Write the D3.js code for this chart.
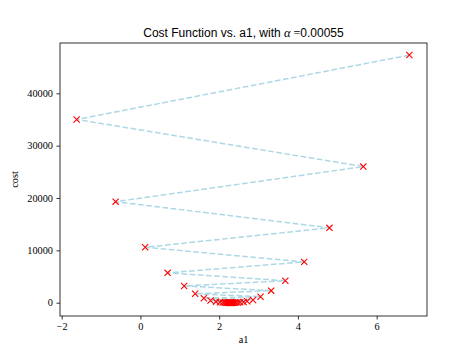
<!DOCTYPE html>
<html>
<head>
<meta charset="utf-8">
<script src="https://cdn.jsdelivr.net/npm/d3@7"></script>
<style>
  html, body { margin: 0; padding: 0; background: #fff; }
  svg { display: block; }
</style>
</head>
<body>
<svg id="chart" width="474" height="355"></svg>
<script>
// Gradient descent iterates of a1 and the corresponding cost
const a1Values = [6.83, -1.62, 5.66, -0.63, 4.80, 0.12, 4.16, 0.69, 3.68, 1.11,
                  3.32, 1.39, 3.05, 1.61, 2.86, 1.78, 2.71, 1.92, 2.62, 2.02,
                  2.53, 2.09, 2.47, 2.14, 2.42, 2.18, 2.38, 2.21, 2.35, 2.23,
                  2.33, 2.25, 2.32, 2.26, 2.31, 2.27, 2.30, 2.28, 2.29, 2.29];
const costValues = [47300, 35000, 26000, 19300, 14300, 10600, 7800, 5700, 4200, 3200,
                    2300, 1700, 1150, 840, 520, 420, 290, 200, 130, 90,
                    60, 40, 30, 20, 14, 10, 7, 5, 3, 2,
                    1.5, 1, 0.7, 0.5, 0.3, 0.2, 0.15, 0.1, 0.1, 0.05];
const xTicks = [-2, 0, 2, 4, 6];
const yTicks = [0, 10000, 20000, 30000, 40000];
const xDomain = [-2.043, 7.278];
const yDomain = [-2541, 49608];

const svg = d3.select("#chart");
const pL = 60, pR = 427, pT = 43, pB = 316;

const x = d3.scaleLinear().domain(xDomain).range([pL, pR]);
const y = d3.scaleLinear().domain(yDomain).range([pB, pT]);

const serif = "'Liberation Serif', 'DejaVu Serif', serif";
const sans = "'Liberation Sans', 'DejaVu Sans', sans-serif";

const fmtX = d => (d < 0 ? "\u2212" + Math.abs(d) : String(d));

// x axis
const xAxis = svg.append("g")
  .attr("transform", `translate(0,${pB})`)
  .call(d3.axisBottom(x).tickValues(xTicks).tickFormat(fmtX).tickSize(3.5).tickPadding(3.5));
xAxis.select(".domain").remove();
xAxis.selectAll("text").attr("font-family", serif).attr("font-size", "10.3px").attr("fill", "#000");
xAxis.selectAll("line").attr("stroke", "#000").attr("stroke-width", 0.8);

// y axis
const yAxis = svg.append("g")
  .attr("transform", `translate(${pL},0)`)
  .call(d3.axisLeft(y).tickValues(yTicks).tickFormat(d => String(d)).tickSize(3.5).tickPadding(3.5));
yAxis.select(".domain").remove();
yAxis.selectAll("text").attr("font-family", serif).attr("font-size", "10.3px").attr("fill", "#000");
yAxis.selectAll("line").attr("stroke", "#000").attr("stroke-width", 0.8);

// clip
svg.append("clipPath").attr("id", "clip")
  .append("rect").attr("x", pL).attr("y", pT).attr("width", pR - pL).attr("height", pB - pT);

const pts = a1Values.map((v, i) => [v, costValues[i]]);

// dashed line
svg.append("path")
  .datum(pts)
  .attr("clip-path", "url(#clip)")
  .attr("fill", "none")
  .attr("stroke", "lightblue")
  .attr("stroke-width", 1.5)
  .attr("stroke-dasharray", "5.7,2.5")
  .attr("d", d3.line().x(d => x(d[0])).y(d => y(d[1])));

// x markers
const m = 3.1;
svg.append("g").attr("clip-path", "url(#clip)")
  .selectAll("path.mk").data(pts).join("path")
  .attr("class", "mk")
  .attr("fill", "none")
  .attr("stroke", "red")
  .attr("stroke-width", 1.1)
  .attr("d", d => {
    const cx = x(d[0]), cy = y(d[1]);
    return `M${cx - m},${cy - m}L${cx + m},${cy + m}M${cx - m},${cy + m}L${cx + m},${cy - m}`;
  });

// frame
svg.append("rect")
  .attr("x", pL).attr("y", pT).attr("width", pR - pL).attr("height", pB - pT)
  .attr("fill", "none").attr("stroke", "#000").attr("stroke-width", 0.8);

// title
const title = svg.append("text")
  .attr("x", (pL + pR) / 2).attr("y", 36.5)
  .attr("text-anchor", "middle")
  .attr("font-family", sans).attr("font-size", "12px").attr("fill", "#000");
title.append("tspan").text("Cost Function vs. a1, with ");
title.append("tspan").attr("font-family", serif).attr("font-style", "italic").attr("font-size", "12.5px").text("\u03b1");
title.append("tspan").attr("font-family", serif).text(" =");
title.append("tspan").text("0.00055");

// axis labels
svg.append("text")
  .attr("x", (pL + pR) / 2).attr("y", 343)
  .attr("text-anchor", "middle")
  .attr("font-family", serif).attr("font-size", "10.3px").attr("fill", "#000")
  .text("a1");

svg.append("text")
  .attr("transform", `translate(18,${(pT + pB) / 2}) rotate(-90)`)
  .attr("text-anchor", "middle")
  .attr("font-family", serif).attr("font-size", "10.3px").attr("fill", "#000")
  .text("cost");
</script>
</body>
</html>
